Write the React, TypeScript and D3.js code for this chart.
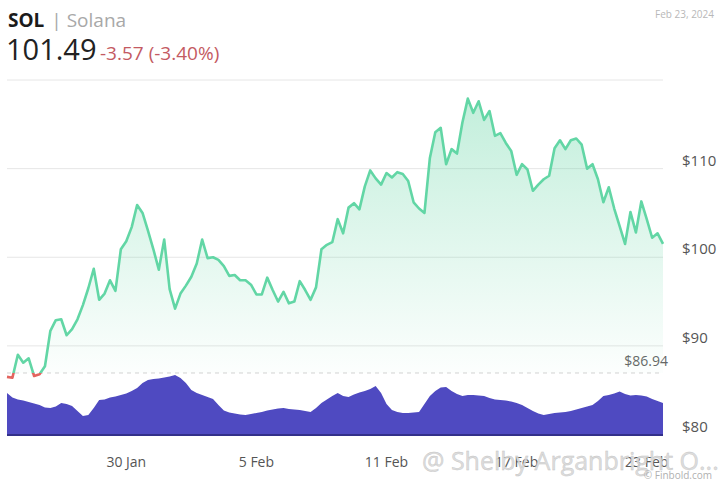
import * as d3 from 'd3'

// SOL / USD, 6-hour samples from Jan 24 12:00 UTC
const startTime = Date.UTC(2024, 0, 24, 12)
const stepHours = 6

const prices = [
  86.5, 86.4, 89.0, 88.1, 88.6, 86.6, 86.8, 87.7, 91.7, 92.9,
  93.0, 91.2, 91.9, 93.0, 94.6, 96.5, 98.7, 95.2, 95.9, 97.4,
  96.2, 100.9, 101.8, 103.4, 105.9, 105.0, 103.0, 100.9, 98.6, 102.0,
  96.4, 94.2, 95.9, 96.8, 97.8, 99.3, 102.0, 99.9, 100.0, 99.7,
  99.0, 97.9, 98.0, 97.4, 97.4, 96.9, 95.8, 95.8, 97.7, 96.3,
  95.0, 96.1, 94.8, 95.0, 97.3, 96.3, 95.2, 96.6, 100.9, 101.4,
  101.7, 104.3, 102.7, 105.6, 106.1, 105.4, 108.0, 109.8, 108.9, 108.2,
  109.5, 109.0, 109.6, 109.4, 108.6, 106.2, 105.5, 105.0, 111.2, 114.1,
  114.6, 110.5, 112.2, 111.7, 115.2, 117.9, 116.3, 117.6, 115.5, 116.5,
  113.7, 114.0, 112.9, 112.0, 109.3, 110.5, 109.9, 107.5, 108.2, 108.8,
  109.2, 112.3, 113.2, 112.2, 113.2, 113.4, 112.7, 110.0, 110.5, 108.8,
  106.2, 107.9, 105.5, 103.5, 101.5, 105.1, 102.8, 106.3, 104.3, 102.2,
  102.7, 101.5,
]

// volume (billions USD)
const volumes = [
  2.10, 1.88, 1.78, 1.72, 1.65, 1.58, 1.50, 1.38, 1.35, 1.42,
  1.60, 1.55, 1.45, 1.20, 0.95, 1.00, 1.35, 1.75, 1.78, 1.88,
  1.92, 2.00, 2.08, 2.20, 2.35, 2.60, 2.75, 2.80, 2.82, 2.88,
  2.92, 3.00, 2.85, 2.60, 2.25, 2.10, 2.00, 1.90, 1.80, 1.50,
  1.22, 1.12, 1.08, 1.02, 1.00, 1.05, 1.10, 1.15, 1.22, 1.28,
  1.32, 1.35, 1.30, 1.28, 1.25, 1.20, 1.15, 1.35, 1.60, 1.78,
  1.95, 2.10, 1.95, 1.90, 2.02, 2.12, 2.20, 2.30, 2.45, 2.10,
  1.55, 1.25, 1.15, 1.10, 1.10, 1.12, 1.15, 1.55, 1.95, 2.20,
  2.38, 2.40, 2.20, 2.05, 1.95, 2.00, 2.00, 1.98, 1.95, 1.85,
  1.78, 1.75, 1.72, 1.68, 1.60, 1.50, 1.35, 1.20, 1.08, 1.00,
  1.05, 1.10, 1.12, 1.15, 1.20, 1.28, 1.35, 1.42, 1.50, 1.70,
  1.95, 2.00, 2.08, 2.18, 2.05, 1.98, 2.00, 1.98, 1.92, 1.80,
  1.70, 1.60,
]

const refPrice = 86.94
const gridValues = [80, 90, 100, 110, 120]
const priceLabels = [80, 90, 100, 110]
const dateTicks = ['2024-01-30', '2024-02-05', '2024-02-11', '2024-02-17', '2024-02-23']
const dateLabels = ['30 Jan', '5 Feb', '11 Feb', '17 Feb', '23 Feb']

const W = 719
const H = 482
const font = "'Open Sans', 'Noto Sans', sans-serif"

type Pt = { t: Date; p: number; v: number }

export default function App() {
  const data: Pt[] = prices.map((p, i) => ({
    t: new Date(startTime + i * stepHours * 3600 * 1000),
    p,
    v: volumes[i],
  }))

  const x = d3
    .scaleUtc()
    .domain(d3.extent(data, d => d.t) as [Date, Date])
    .range([7, 663])
  const y = d3.scaleLinear().domain([80, 120]).range([434.5, 80])
  const yVol = d3.scaleLinear().domain([0, 3]).range([435, 375])

  const line = d3
    .line<Pt>()
    .x(d => x(d.t))
    .y(d => y(d.p))
  const area = d3
    .area<Pt>()
    .x(d => x(d.t))
    .y0(y(refPrice))
    .y1(d => y(d.p))
  const volArea = d3
    .area<Pt>()
    .x(d => x(d.t))
    .y0(yVol(0))
    .y1(d => yVol(d.v))

  const yRef = y(refPrice)
  const [x0, x1] = x.range()

  return (
    <svg
      width={W}
      height={H}
      style={{ position: 'absolute', left: 0, top: 0, background: '#fff' }}
      fontFamily={font}
    >
      <defs>
        <linearGradient id="fillG" gradientUnits="userSpaceOnUse" x1="0" y1="95" x2="0" y2="370">
          <stop offset="0" stopColor="#5ed3a0" stopOpacity={0.38} />
          <stop offset="1" stopColor="#5ed3a0" stopOpacity={0.02} />
        </linearGradient>
        <clipPath id="above">
          <rect x={0} y={0} width={W} height={yRef} />
        </clipPath>
        <clipPath id="below">
          <rect x={0} y={yRef} width={W} height={H - yRef} />
        </clipPath>
      </defs>

      {/* header */}
      <text x={8} y={27} fontSize={19} fontWeight={700} fill="#1b1b1b">
        SOL
        <tspan fill="#a8a8a8" fontWeight={400} dx={7}>
          | Solana
        </tspan>
      </text>
      <text x={6} y={60} fontSize={29} fill="#222">
        101.49
      </text>
      <text x={100} y={60} fontSize={19} fill="#c45a62">
        -3.57 (-3.40%)
      </text>
      <text x={714} y={18} fontSize={10} fill="#b8b8b8" textAnchor="end">
        Feb 23, 2024
      </text>

      {/* grid */}
      {gridValues.map(v => (
        <line key={v} x1={x0} x2={x1} y1={y(v)} y2={y(v)} stroke="#e6e6e6" strokeWidth={1} />
      ))}
      {priceLabels.map(v => (
        <text key={v} x={682} y={y(v) - 3} fontSize={15} fill="#555">
          ${v}
        </text>
      ))}

      {/* reference price */}
      <line x1={x0} x2={x1} y1={yRef} y2={yRef} stroke="#d2d2d2" strokeDasharray="4 4" />
      <text x={668} y={yRef - 7} fontSize={14} fill="#666" textAnchor="end">
        ${refPrice.toFixed(2)}
      </text>

      {/* price */}
      <path d={area(data) ?? ''} fill="url(#fillG)" clipPath="url(#above)" />
      <path
        d={line(data) ?? ''}
        fill="none"
        stroke="#62d6a5"
        strokeWidth={2.6}
        strokeLinejoin="round"
        clipPath="url(#above)"
      />
      <path
        d={line(data) ?? ''}
        fill="none"
        stroke="#e3645f"
        strokeWidth={2.6}
        strokeLinejoin="round"
        clipPath="url(#below)"
      />

      {/* volume */}
      <path d={volArea(data) ?? ''} fill="#4f4ac1" />
      <line x1={x0} x2={x1} y1={yVol(0)} y2={yVol(0)} stroke="#33308a" strokeWidth={2} />

      {/* x axis */}
      {dateTicks.map((d, i) => (
        <text
          key={d}
          x={x(new Date(d + 'T00:00:00Z'))}
          y={467}
          fontSize={14}
          fill="#555"
          textAnchor="middle"
        >
          {dateLabels[i]}
        </text>
      ))}

      {/* watermark overlay */}
      <text
        x={422}
        y={470}
        fontSize={25}
        fill="#d9d9d9"
        fillOpacity={0.9}
        stroke="#c4c4c4"
        strokeWidth={0.4}
      >
        @ Shelby Arganbright O...
      </text>
      <text x={712} y={479} fontSize={10} fill="#b0b0b0" textAnchor="end">
        © Finbold.com
      </text>
    </svg>
  )
}
